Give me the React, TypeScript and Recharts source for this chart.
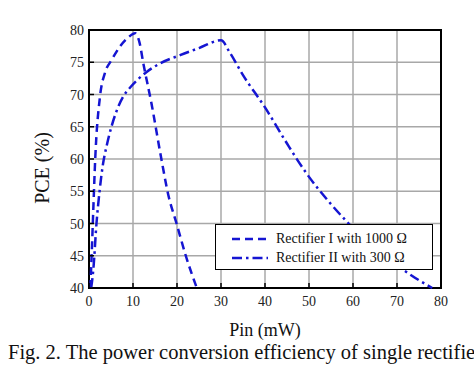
import { CartesianGrid, Line, LineChart, ReferenceArea, XAxis, YAxis } from 'recharts'

// Rectifier I with 1000 Ω (dashed)
const R1_X = [0.3, 0.6, 1, 1.4, 2.5, 3.6, 5.1, 7, 9, 10.5, 11.5, 12.3, 14.2, 16.5, 18, 19.9, 22, 24.5]
const R1_Y = [40, 45, 52.6, 59.8, 69.7, 73.3, 75.3, 77.4, 78.9, 79.5, 78, 75, 68.6, 59.8, 54.5, 50, 45, 40]

// Rectifier II with 300 Ω (dash-dot)
const R2_X = [0.5, 1, 1.7, 2.4, 3.2, 4, 5.1, 6.3, 7.8, 9.5, 11.2, 13.1, 16.1, 20.7, 25, 30, 32, 35, 40, 45, 49.4, 55, 59, 65, 70, 75, 78]
const R2_Y = [40, 43, 50, 55, 59.3, 62, 65, 67.5, 69.7, 71.2, 72.4, 73.5, 74.8, 76.1, 77.2, 78.4, 76.5, 73, 68, 62.4, 57.8, 53, 50, 46, 43.5, 41.2, 40]

const X_TICKS = [0, 10, 20, 30, 40, 50, 60, 70, 80]
const Y_TICKS = [40, 45, 50, 55, 60, 65, 70, 75, 80]

const r1 = R1_X.map((x, i) => ({ x, y: R1_Y[i] }))
const r2 = R2_X.map((x, i) => ({ x, y: R2_Y[i] }))

const BLUE = '#1515d2'
const FONT = '"Liberation Serif", "Times New Roman", serif'
const DASH = '8 5'
const DASH_DOT = '10 4 2.5 4'

function XTick({ x, y, payload }: any) {
  return (
    <g>
      <line x1={x} x2={x} y1={y - 5} y2={y} stroke="#000" strokeWidth={1.5} />
      <text x={x} y={y + 18} textAnchor="middle" fontSize={14} fontFamily={FONT} fill="#222">
        {payload.value}
      </text>
    </g>
  )
}

function YTick({ x, y, payload }: any) {
  return (
    <g>
      <line x1={x} x2={x + 5} y1={y} y2={y} stroke="#000" strokeWidth={1.5} />
      <text x={x - 5} y={y + 5} textAnchor="end" fontSize={14} fontFamily={FONT} fill="#222">
        {payload.value}
      </text>
    </g>
  )
}

function LegendBox() {
  const rows = [
    { label: 'Rectifier I with 1000 Ω', dash: DASH },
    { label: 'Rectifier II with 300 Ω', dash: DASH_DOT }
  ]
  return (
    <div
      style={{
        position: 'absolute',
        left: 215,
        top: 224,
        border: '1px solid #000',
        background: '#fff',
        width: 218,
        height: 46,
        boxSizing: 'border-box',
        padding: '4px 0 0 16px',
        fontFamily: FONT,
        fontSize: 14,
        color: '#111'
      }}
    >
      {rows.map((r) => (
        <div key={r.label} style={{ display: 'flex', alignItems: 'center', height: 19 }}>
          <svg width={36} height={10} style={{ marginRight: 8 }}>
            <line x1={0} x2={36} y1={5} y2={5} stroke={BLUE} strokeWidth={2.5} strokeDasharray={r.dash} />
          </svg>
          <span>{r.label}</span>
        </div>
      ))}
    </div>
  )
}

export default function App() {
  return (
    <div style={{ position: 'absolute', left: 0, top: 0, width: 474, height: 367, background: '#fff', overflow: 'hidden' }}>
      <LineChart width={474} height={340} margin={{ top: 30, right: 33, bottom: 0, left: 0 }}>
        <CartesianGrid stroke="#a8a8a8" strokeWidth={1.5} />
        <XAxis
          type="number"
          dataKey="x"
          domain={[0, 80]}
          ticks={X_TICKS}
          tickSize={0}
          tickMargin={0}
          tick={<XTick />}
          axisLine={false}
          height={52}
          label={{ value: 'Pin (mW)', position: 'insideBottom', offset: 4, fontSize: 18, fontFamily: FONT, fill: '#111' }}
        />
        <YAxis
          type="number"
          domain={[40, 80]}
          ticks={Y_TICKS}
          tickSize={0}
          tickMargin={0}
          tick={<YTick />}
          axisLine={false}
          width={89}
          label={{ value: 'PCE (%)', angle: -90, position: 'insideLeft', offset: 42, dy: 9, textAnchor: 'middle', fontSize: 20, fontFamily: FONT, fill: '#111' }}
        />
        <ReferenceArea x1={0} x2={80} y1={40} y2={80} fill="none" stroke="#000" strokeWidth={2} ifOverflow="visible" />
        <Line
          data={r1}
          dataKey="y"
          type="monotone"
          stroke={BLUE}
          strokeWidth={2.5}
          strokeDasharray={DASH}
          dot={false}
          isAnimationActive={false}
        />
        <Line
          data={r2}
          dataKey="y"
          type="monotone"
          stroke={BLUE}
          strokeWidth={2.5}
          strokeDasharray={DASH_DOT}
          dot={false}
          isAnimationActive={false}
        />
      </LineChart>
      <LegendBox />
      <div
        style={{
          position: 'absolute',
          left: 8,
          top: 341,
          whiteSpace: 'nowrap',
          fontFamily: FONT,
          fontSize: 20.5,
          color: '#111'
        }}
      >
        Fig. 2. The power conversion efficiency of single rectifie
      </div>
    </div>
  )
}
